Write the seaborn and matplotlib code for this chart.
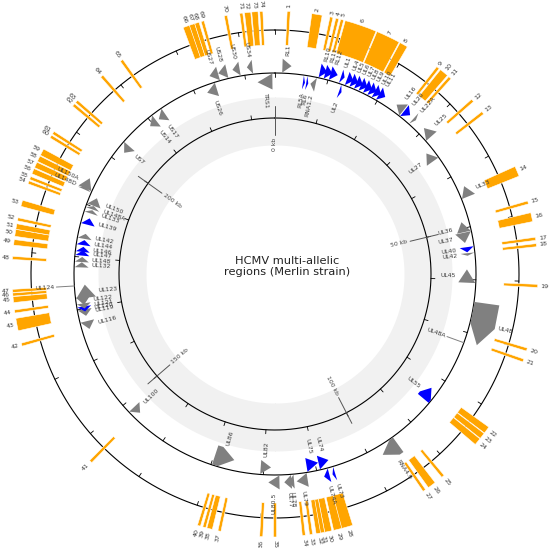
import numpy as np
import matplotlib
matplotlib.use("Agg")
import matplotlib.pyplot as plt
import seaborn as sns

GENOME_KB = 235.646

# multi-allelic regions (numbered 1..74): centre and width in kb
region_ids = list(range(1, 75))
region_kb = [1.96, 6.02, 8.12, 8.97, 9.69, 12.47, 16.69, 19.18, 25.07, 26.18,
             27.30, 31.88, 34.17, 43.86, 48.57, 50.73, 53.87, 54.79, 60.61, 69.84,
             71.48, 82.74, 83.79, 84.84, 91.84, 93.87, 95.18, 107.42, 108.79, 110.17,
             111.02, 111.61, 112.66, 113.70, 117.82, 119.79, 125.81, 127.25, 128.04, 128.83,
             146.95, 166.53, 169.47, 171.37, 173.07, 173.80, 174.32, 179.03, 181.26, 182.63,
             183.55, 184.60, 186.95, 190.09, 190.75, 191.80, 192.78, 193.76, 194.81, 197.36,
             198.01, 202.92, 203.58, 208.68, 212.28, 222.76, 223.61, 224.33, 225.18, 228.58,
             230.81, 231.73, 232.77, 233.69]
region_w = [.45, 1.5, .45, .45, .45, 4.65, 3.5, 1.2, .45, 1.3,
            .45, .45, .45, 1.5, .45, 1.3, .45, .45, .45, .45,
            .45, 1.05, .9, 1.05, .45, 1.2, .45, 1.7, 1.2, 1.05,
            .65, .65, .45, .45, .45, .45, .45, .8, .45, .45,
            .45, .45, 1.8, .45, .85, .45, .45, .45, .8, 1.0,
            .8, .45, .9, .45, .45, .8, .85, .85, 1.0, .45,
            .45, .45, .45, .45, .45, 1.0, .8, .65, .45, .45,
            .45, .9, .9, .45]

# genes on the middle ring: position (kb), length (kb), side (+1 out / -1 in),
# strand (+1 clockwise / -1 anticlockwise)
gene_names = ["RL1", "RL5A", "RL6", "RNA1.2", "RL10", "RL11", "RL12", "UL1", "UL2",
              "UL4", "UL5", "UL6", "UL7", "UL8", "UL9", "UL10", "UL11",
              "UL16", "UL20", "UL22A", "UL25", "UL27", "UL33", "UL36", "UL37",
              "UL40", "UL42", "UL45", "UL48", "UL55", "RNA4.9", "UL73", "UL74A",
              "UL74", "UL75", "UL79", "UL78", "UL77", "UL80.5", "UL82", "UL86",
              "UL100", "UL116", "UL119", "UL120", "UL121", "UL122", "UL123",
              "UL132", "UL148", "UL147", "UL146", "UL144", "UL142", "UL139",
              "UL133", "UL148A", "UL150", "UL148D", "UL150A", "US7", "US14",
              "US17", "US26", "US27", "US28", "US30", "US34", "TRS1"]
gene_kb = [2.16, 5.63, 6.28, 7.40, 8.84, 9.82, 10.80, 12.44, 12.90,
           13.88, 14.79, 15.71, 16.63, 17.54, 18.46, 19.38, 20.29,
           24.15, 25.79, 27.56, 30.83, 34.69, 43.60, 49.75, 51.84,
           54.20, 55.12, 59.31, 67.88, 83.79, 96.03, 107.09, 108.40,
           108.33, 110.56, 112.92, 114.88, 115.50, 118.02, 119.59, 127.84,
           147.55, 166.73, 169.21, 169.93, 170.52, 171.50, 173.34,
           178.51, 179.55, 180.80, 181.52, 182.83, 184.07, 187.02,
           188.98, 189.83, 191.01, 192.64, 193.63, 202.92, 210.13,
           212.28, 223.22, 224.46, 226.10, 228.58, 231.07, 233.69]
gene_len = [1.64, .4, .4, 1.0, 1.3, 1.3, 1.3, .65, .5,
            1.2, 1.2, 1.2, 1.2, 1.2, 1.2, 1.2, 1.2,
            1.6, 1.3, .5, 2.0, 2.0, 2.0, 2.0, 2.0,
            1.0, .5, 2.6, 7.5, 2.6, 3.3, .5, 1.0,
            2.0, 2.3, 2.0, 1.0, 1.3, 2.0, 2.0, 3.9,
            1.6, 1.6, 1.3, 1.0, 1.0, 1.6, 2.6,
            1.0, 1.0, 1.0, 1.0, 1.0, 1.0, 1.3,
            .7, .7, 1.6, .5, 2.0, 1.6, 1.6,
            1.6, 2.0, 1.6, 1.6, 1.3, 1.0, 2.9]
gene_side = [1, -1, -1, -1, 1, 1, 1, 1, -1,
             1, 1, 1, 1, 1, 1, 1, 1,
             1, 1, 1, 1, -1, 1, -1, -1,
             -1, -1, -1, 1, -1, 1, 1, 1,
             -1, -1, 1, 1, 1, 1, -1, -1,
             -1, -1, -1, -1, -1, -1, -1,
             -1, -1, -1, -1, -1, -1, -1,
             -1, -1, -1, 1, 1, -1, -1,
             -1, -1, 1, 1, 1, 1, -1]
gene_strand = [1, 1, 1, -1, 1, 1, 1, 1, 1,
               1, 1, 1, 1, 1, 1, 1, 1,
               -1, 1, 1, -1, -1, -1, -1, 1,
               1, 1, -1, 1, -1, 1, 1, 1,
               -1, -1, 1, 1, 1, 1, -1, -1,
               -1, -1, -1, -1, -1, -1, 1,
               1, 1, 1, 1, 1, 1, 1,
               1, 1, 1, 1, 1, -1, -1,
               -1, -1, -1, -1, -1, -1, -1]
blue_genes = {"RL5A", "RL6", "RL10", "RL11", "RL12", "UL1", "UL2", "UL4", "UL5",
              "UL6", "UL7", "UL8", "UL9", "UL10", "UL11", "UL20", "UL40", "UL55",
              "UL73", "UL74A", "UL74", "UL75", "UL120", "UL144", "UL146", "UL147",
              "UL139"}
big_genes = {"UL48": 25, "UL86": 20, "UL123": 20, "TRS1": 16, "RNA4.9": 18,
             "UL45": 17, "UL37": 16}

# genes only marked with a leader line
leader_names = ["UL48A", "UL124"]
leader_kb = [72.0, 174.5]
leader_side = [-1, 1]

# scale
scale_kb = [0, 50, 100, 150, 200]
scale_labels = ["0 kb", "50 kb", "100 kb", "150 kb", "200 kb"]

R_OUT, R_MID, R_IN = 244, 201, 156
BAND = (129, 177)
BAR_R = (229, 263)

sns.set_theme(style="white")
plt.rcParams["font.family"] = ["DejaVu Sans"]

ORANGE = "#ffa500"
BLUE = "#0000ff"
GREY = "#808080"
TXT = "#3a3a3a"


def th(kb):
    return np.deg2rad(np.asarray(kb) / GENOME_KB * 360.0)


def radial_text(ax, kb, r, s, outward=True, size=4.4, color=TXT):
    deg = (kb / GENOME_KB * 360.0) % 360
    rot = 90 - deg
    flip = deg > 180
    if flip:
        rot += 180
    if outward:
        ha = "right" if flip else "left"
    else:
        ha = "left" if flip else "right"
    ax.text(th(kb), r, s, rotation=rot, rotation_mode="anchor", ha=ha,
            va="center", fontsize=size, color=color)


fig = plt.figure(figsize=(5.5, 5.48), dpi=100)
ax = fig.add_axes([0, 0, 1, 1], projection="polar")
ax.set_theta_zero_location("N")
ax.set_theta_direction(-1)
ax.set_ylim(0, 274)
ax.set_axis_off()

full = np.linspace(0, 2 * np.pi, 720)
ax.fill_between(full, BAND[0], BAND[1], color="#f1f1f1", lw=0, zorder=0)
for r in (R_OUT, R_MID, R_IN):
    ax.plot(full, np.full_like(full, r), color="black", lw=0.8, zorder=2)

# 10 kb ticks on the three rings
for kb in np.arange(0, GENOME_KB, 10):
    t = th(kb)
    ax.plot([t, t], [R_OUT, R_OUT - 4], color="black", lw=0.6, zorder=2)
    ax.plot([t, t], [R_MID, R_MID - 4], color="black", lw=0.6, zorder=2)
    ax.plot([t, t], [R_IN, R_IN + 4], color="black", lw=0.6, zorder=2)

for kb, lab in zip(scale_kb, scale_labels):
    t = th(kb)
    ax.plot([t, t], [139, 168], color="#555555", lw=0.7, zorder=2)
    radial_text(ax, kb, 136, lab, outward=False, size=4.4, color="#444444")

# multi-allelic regions
ax.bar(th(region_kb), BAR_R[1] - BAR_R[0], width=th(region_w), bottom=BAR_R[0],
       color=ORANGE, edgecolor="white", linewidth=0.4, zorder=3)
for i, kb in zip(region_ids, region_kb):
    radial_text(ax, kb, BAR_R[1] + 3, str(i), outward=True, size=4.6)

# genes
for name, kb, ln, side, strand in zip(gene_names, gene_kb, gene_len, gene_side, gene_strand):
    h = big_genes.get(name, 14)
    col = BLUE if name in blue_genes else GREY
    t0, t1 = th(kb - ln / 2), th(kb + ln / 2)
    if side > 0:
        ra, rb = R_MID + 0.5, R_MID + 0.5 + h
    else:
        ra, rb = R_MID - 0.5 - h, R_MID - 0.5
    rm = (ra + rb) / 2
    base, tip = (t0, t1) if strand > 0 else (t1, t0)
    span = abs(t1 - t0) * R_MID
    head = 0.75 * h
    if span <= head * 1.3:
        ts = [base, base, tip]
        rs = [ra, rb, rm]
    else:
        neck = tip + np.sign(base - tip) * head / R_MID
        ts = [base, base, neck, tip, neck]
        rs = [ra, rb, rb, rm, ra]
    ax.fill(ts, rs, color=col, lw=0, zorder=4)
    if side > 0:
        radial_text(ax, kb, rb + 3, name, outward=True)
    else:
        radial_text(ax, kb, ra - 3, name, outward=False)

for name, kb, side in zip(leader_names, leader_kb, leader_side):
    t = th(kb)
    r_end = R_MID + 18 * side
    ax.plot([t, t], [R_MID, r_end], color=GREY, lw=0.7, zorder=4)
    radial_text(ax, kb, r_end + 2 * side, name, outward=side > 0)

ax.text(0.522, 0.513, "HCMV multi-allelic\nregions (Merlin strain)", transform=ax.transAxes,
        ha="center", va="center", fontsize=8.2, color="#222222", linespacing=1.15)

fig.savefig("out.png", dpi=100, facecolor="white")
